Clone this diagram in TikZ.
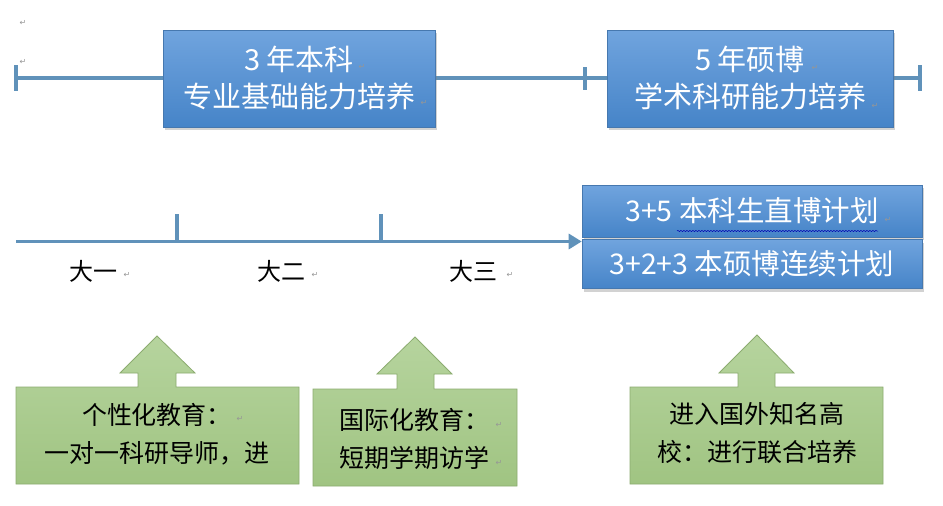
\documentclass[tikz,border=0pt]{standalone}
\usepackage{fontspec}
\setmainfont{Noto Sans CJK SC}
\newfontfamily\symfont{DejaVu Sans}
\usetikzlibrary{shadows,decorations.pathmorphing,arrows.meta}
\definecolor{tlblue}{RGB}{96,146,186}
\definecolor{boxtop}{RGB}{112,164,222}
\definecolor{boxbot}{RGB}{70,132,200}
\definecolor{boxedge}{RGB}{70,120,175}
\definecolor{grtop}{RGB}{182,212,158}
\definecolor{grbot}{RGB}{160,196,130}
\definecolor{gredge}{RGB}{140,172,112}
\definecolor{markgray}{RGB}{150,150,150}
\begin{document}
\begin{tikzpicture}[x=1pt,y=-1pt,
  tl/.style={line width=3.4pt,draw=tlblue},
  bluebox/.style={draw=boxedge,line width=0.6pt,top color=boxtop,bottom color=boxbot,
    drop shadow={shadow xshift=2pt,shadow yshift=-3pt,opacity=0.35},
    text=white,align=center,inner sep=0pt},
  bigtxt/.style={font=\fontsize{29}{37}\selectfont},
  planbox/.style={bluebox,minimum width=340pt,font=\fontsize{28.5}{34}\selectfont},
  yearlbl/.style={font=\fontsize{24}{28}\selectfont,text=black},
  greentxt/.style={font=\fontsize{25}{38}\selectfont,text=black,align=center,inner sep=0pt},
  greenarrow/.style={draw=gredge,line width=0.8pt,top color=grtop,bottom color=grbot},
  retmark/.style={font=\symfont\fontsize{8}{9}\selectfont,text=markgray,inner sep=0pt}
]
\useasboundingbox[fill=white] (0,0) rectangle (943,506);

% top timeline
\coordinate (t0) at (16,78);
\coordinate (t1) at (585,78);
\coordinate (t2) at (920,78);
\draw[tl] (t0) -- (t2);
\draw[tl] ([yshift=13pt]t0) -- ([yshift=-13pt]t0);
\draw[tl] ([yshift=11pt]t1) -- ([yshift=-12pt]t1);
\draw[tl] ([yshift=13pt]t2) -- ([yshift=-13pt]t2);

% top boxes
\node[bluebox,bigtxt,minimum width=272pt,minimum height=97pt] (b1) at (299,78.5)
  {3 年本科\\专业基础能力培养};
\node[bluebox,bigtxt,minimum width=286pt,minimum height=97pt] (b2) at (750,78.5)
  {5 年硕博\\学术科研能力培养};

% middle timeline
\coordinate (m0) at (16,241.5);
\coordinate (k1) at (177,241.5);
\coordinate (k2) at (381,241.5);
\draw[tl] (k1) -- ++(0,-28);
\draw[tl] (k2) -- ++(0,-28);

% plan boxes
\node[planbox,minimum height=52pt] (pa) at (752,211) {3+5 本科生直博计划};
\node[planbox,minimum height=49pt] (pb) at (752,264) {3+2+3 本硕博连续计划};
\draw[tl,-{Triangle[length=13pt,width=15pt]}] (m0) -- (m0 -| pa.west);
\draw[blue!70!black,line width=0.5pt,decorate,decoration={snake,amplitude=0.6pt,segment length=3pt}]
  (677,231) -- (878,231);

% year labels
\node[yearlbl] (y1) at (93,271) {大一};
\node[yearlbl] (y2) at (281,271) {大二};
\node[yearlbl] (y3) at (473,271) {大三};

% green callouts
\draw[greenarrow] (16,387) -- (138,387) -- (138,373) -- (120,373) -- (157,336) -- (195,373)
  -- (176,373) -- (176,387) -- (299,387) -- (299,484) -- (16,484) -- cycle;
\draw[greenarrow] (313,389) -- (397,389) -- (397,374) -- (377,374) -- (415,337) -- (452,374)
  -- (434,374) -- (434,389) -- (517,389) -- (517,486) -- (313,486) -- cycle;
\draw[greenarrow] (630,387) -- (738,387) -- (738,373) -- (719,373) -- (757,335) -- (794,373)
  -- (775,373) -- (775,387) -- (883,387) -- (883,484) -- (630,484) -- cycle;

\node[greentxt] (g1) at (157,434) {个性化教育：\\一对一科研导师，进};
\node[greentxt,align=left] (g2) at (414,439) {国际化教育：\\短期学期访学};
\node[greentxt] (g3) at (757,433) {进入国外知名高\\校：进行联合培养};

% paragraph marks
\node[retmark] (r1) at (23,23) {↵};
\node[retmark] (r2) at (23,62) {↵};
\node[retmark] (r3) at (362,67) {↵};
\node[retmark] (r4) at (424,103) {↵};
\node[retmark] (r5) at (815,68) {↵};
\node[retmark] (r6) at (875,106) {↵};
\node[retmark] (r7) at (888,220) {↵};
\node[retmark] (r8) at (127,275) {↵};
\node[retmark] (r9) at (315,275) {↵};
\node[retmark] (r10) at (510,275) {↵};
\node[retmark] (r11) at (240,419) {↵};
\node[retmark] (r12) at (499,425) {↵};
\node[retmark] (r13) at (499,463) {↵};
\end{tikzpicture}
\end{document}
